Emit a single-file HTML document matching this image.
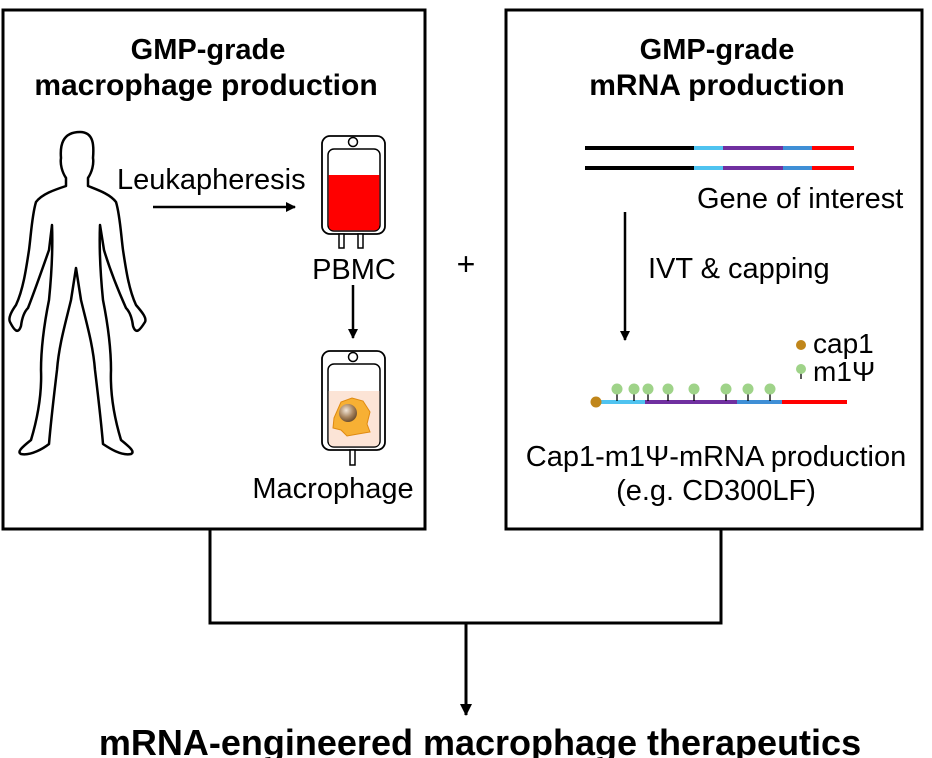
<!DOCTYPE html>
<html><head><meta charset="utf-8"><style>
html,body{margin:0;padding:0;background:#fff;}
svg{display:block;font-family:"Liberation Sans",Arial,sans-serif;}
</style></head><body>
<svg width="932" height="758" viewBox="0 0 932 758">
<defs>
<marker id="ah" markerWidth="10" markerHeight="10" refX="9" refY="5" orient="auto" markerUnits="userSpaceOnUse">
<path d="M0,0 L10,5 L0,10 Z" fill="#000"/></marker>
<marker id="ah2" markerWidth="12" markerHeight="12" refX="11" refY="6" orient="auto" markerUnits="userSpaceOnUse">
<path d="M0,0 L12,6 L0,12 Z" fill="#000"/></marker>
<radialGradient id="nuc" cx="40%" cy="35%" r="65%"><stop offset="0" stop-color="#f2e6d8"/><stop offset="0.6" stop-color="#a88560"/><stop offset="1" stop-color="#6e5030"/></radialGradient>
</defs>
<rect x="3" y="10" width="422" height="519" fill="none" stroke="#000" stroke-width="3"/>
<rect x="506" y="10" width="416" height="519" fill="none" stroke="#000" stroke-width="3"/>
<text x="208" y="59" font-size="29" font-weight="bold" text-anchor="middle">GMP-grade</text>
<text x="206" y="95" font-size="30" font-weight="bold" text-anchor="middle">macrophage production</text>
<text x="717" y="59" font-size="29" font-weight="bold" text-anchor="middle">GMP-grade</text>
<text x="717" y="95" font-size="30" font-weight="bold" text-anchor="middle">mRNA production</text>
<path d="M80,132 C62,132 60,146 61,158 C60,164 62,172 66,178 L66,186 C54,190 42,194 36,202 C32,215 31,235 29,250 C26,270 23,290 16,305 C11,312 8,318 10,322 C14,330 18,335 21,326 C22,318 24,312 28,308 C35,290 42,270 49,250 L52,225 C53,250 51,280 49,300 C45,320 41,345 41,370 C42,395 37,420 31,440 C21,448 17,452 21,454 C31,456 44,448 49,444 C51,420 54,395 57,370 C59,345 65,325 71,300 L76,268 L81,300 C87,325 93,345 95,370 C98,395 101,420 103,444 C109,448 121,456 131,454 C135,452 131,448 121,440 C115,420 110,395 111,370 C111,345 107,320 103,300 C101,280 99,250 100,225 L104,250 C110,270 118,290 126,308 C130,312 132,318 133,326 C136,335 140,330 145,322 C147,318 142,312 136,305 C129,290 126,270 123,250 C121,235 120,215 116,202 C110,194 98,190 88,186 L88,178 C92,172 94,164 93,158 C94,146 94,132 80,132 Z" fill="none" stroke="#000" stroke-width="2.5" stroke-linejoin="round"/>
<text x="117" y="189" font-size="29">Leukapheresis</text>
<line x1="153" y1="207" x2="295" y2="207" stroke="#000" stroke-width="2.5" marker-end="url(#ah)"/>
<rect x="322" y="136" width="63" height="98" rx="8" fill="#fff" stroke="#000" stroke-width="1.8"/>
<circle cx="353" cy="142" r="4.5" fill="#fff" stroke="#000" stroke-width="1.5"/>
<rect x="328" y="149" width="52" height="82" rx="6" fill="#fff" stroke="#000" stroke-width="1.5"/>
<path d="M328.7,175 H379.3 V225 Q379.3,230.3 374,230.3 H334 Q328.7,230.3 328.7,225 Z" fill="#ff0000"/>
<rect x="339" y="234" width="5" height="14" fill="#fff" stroke="#000" stroke-width="1.5"/>
<rect x="358" y="234" width="5" height="14" fill="#fff" stroke="#000" stroke-width="1.5"/>
<text x="354" y="279" font-size="29" text-anchor="middle">PBMC</text>
<line x1="353" y1="285" x2="353" y2="338" stroke="#000" stroke-width="2.5" marker-end="url(#ah)"/>
<rect x="322" y="351" width="63" height="99" rx="8" fill="#fff" stroke="#000" stroke-width="1.8"/>
<circle cx="353" cy="357" r="4.5" fill="#fff" stroke="#000" stroke-width="1.5"/>
<rect x="328" y="364" width="52" height="83" rx="6" fill="#fff" stroke="#000" stroke-width="1.5"/>
<path d="M328.7,391 H379.3 V441 Q379.3,446.3 374,446.3 H334 Q328.7,446.3 328.7,441 Z" fill="#fce4d6"/>
<path d="M334,418 L341,402 L352,398 L363,401 L370,412 L367,424 L370,432 L358,434 L347,436 L341,430 L333,428 Z" fill="#f7b034" stroke="#e08a10" stroke-width="1"/>
<circle cx="348" cy="413" r="9" fill="url(#nuc)"/>
<rect x="350" y="450" width="5" height="15" fill="#fff" stroke="#000" stroke-width="1.5"/>
<text x="333" y="498" font-size="29" text-anchor="middle">Macrophage</text>
<text x="466" y="275" font-size="32" text-anchor="middle">+</text>
<g stroke-width="4">
<line x1="585" y1="148" x2="694" y2="148" stroke="#000"/><line x1="694" y1="148" x2="723" y2="148" stroke="#4fc3f0"/><line x1="723" y1="148" x2="783" y2="148" stroke="#7030a0"/><line x1="783" y1="148" x2="812" y2="148" stroke="#3f8fd6"/><line x1="812" y1="148" x2="854" y2="148" stroke="#ff0000"/>
<line x1="585" y1="168" x2="694" y2="168" stroke="#000"/><line x1="694" y1="168" x2="723" y2="168" stroke="#4fc3f0"/><line x1="723" y1="168" x2="783" y2="168" stroke="#7030a0"/><line x1="783" y1="168" x2="812" y2="168" stroke="#3f8fd6"/><line x1="812" y1="168" x2="854" y2="168" stroke="#ff0000"/>
</g>
<text x="697" y="208" font-size="29">Gene of interest</text>
<line x1="625" y1="212" x2="625" y2="340" stroke="#000" stroke-width="2.5" marker-end="url(#ah)"/>
<text x="648" y="278" font-size="29">IVT &amp; capping</text>
<circle cx="801" cy="345" r="5" fill="#c0861a"/>
<text x="813" y="353" font-size="28">cap1</text>
<line x1="801" y1="369" x2="801" y2="379" stroke="#000" stroke-width="1.3"/>
<circle cx="801" cy="369" r="5" fill="#9fd389"/>
<text x="813" y="381" font-size="28">m1Ψ</text>
<g stroke-width="4">
<line x1="597" y1="402" x2="645" y2="402" stroke="#4fc3f0"/><line x1="645" y1="402" x2="737" y2="402" stroke="#7030a0"/><line x1="737" y1="402" x2="782" y2="402" stroke="#3f8fd6"/><line x1="782" y1="402" x2="847" y2="402" stroke="#ff0000"/>
</g>
<circle cx="596" cy="402" r="5.5" fill="#c0861a"/>
<g stroke="#000" stroke-width="1.3">
<line x1="617" y1="390" x2="617" y2="401"/><line x1="634" y1="390" x2="634" y2="401"/><line x1="648" y1="390" x2="648" y2="401"/><line x1="668" y1="390" x2="668" y2="401"/><line x1="694" y1="390" x2="694" y2="401"/><line x1="726" y1="390" x2="726" y2="401"/><line x1="748" y1="390" x2="748" y2="401"/><line x1="770" y1="390" x2="770" y2="401"/>
</g>
<g fill="#9fd389">
<circle cx="617" cy="389" r="5.5"/><circle cx="634" cy="389" r="5.5"/><circle cx="648" cy="389" r="5.5"/><circle cx="668" cy="389" r="5.5"/><circle cx="694" cy="389" r="5.5"/><circle cx="726" cy="389" r="5.5"/><circle cx="748" cy="389" r="5.5"/><circle cx="770" cy="389" r="5.5"/>
</g>
<text x="716" y="466" font-size="29" text-anchor="middle">Cap1-m1Ψ-mRNA production</text>
<text x="716" y="500" font-size="29" text-anchor="middle">(e.g. CD300LF)</text>
<polyline points="210,529 210,623 721,623 721,529" fill="none" stroke="#000" stroke-width="3"/>
<line x1="466" y1="623" x2="466" y2="715" stroke="#000" stroke-width="3" marker-end="url(#ah2)"/>
<text x="480" y="755" font-size="36" font-weight="bold" text-anchor="middle">mRNA-engineered macrophage therapeutics</text>
</svg>
</body></html>
